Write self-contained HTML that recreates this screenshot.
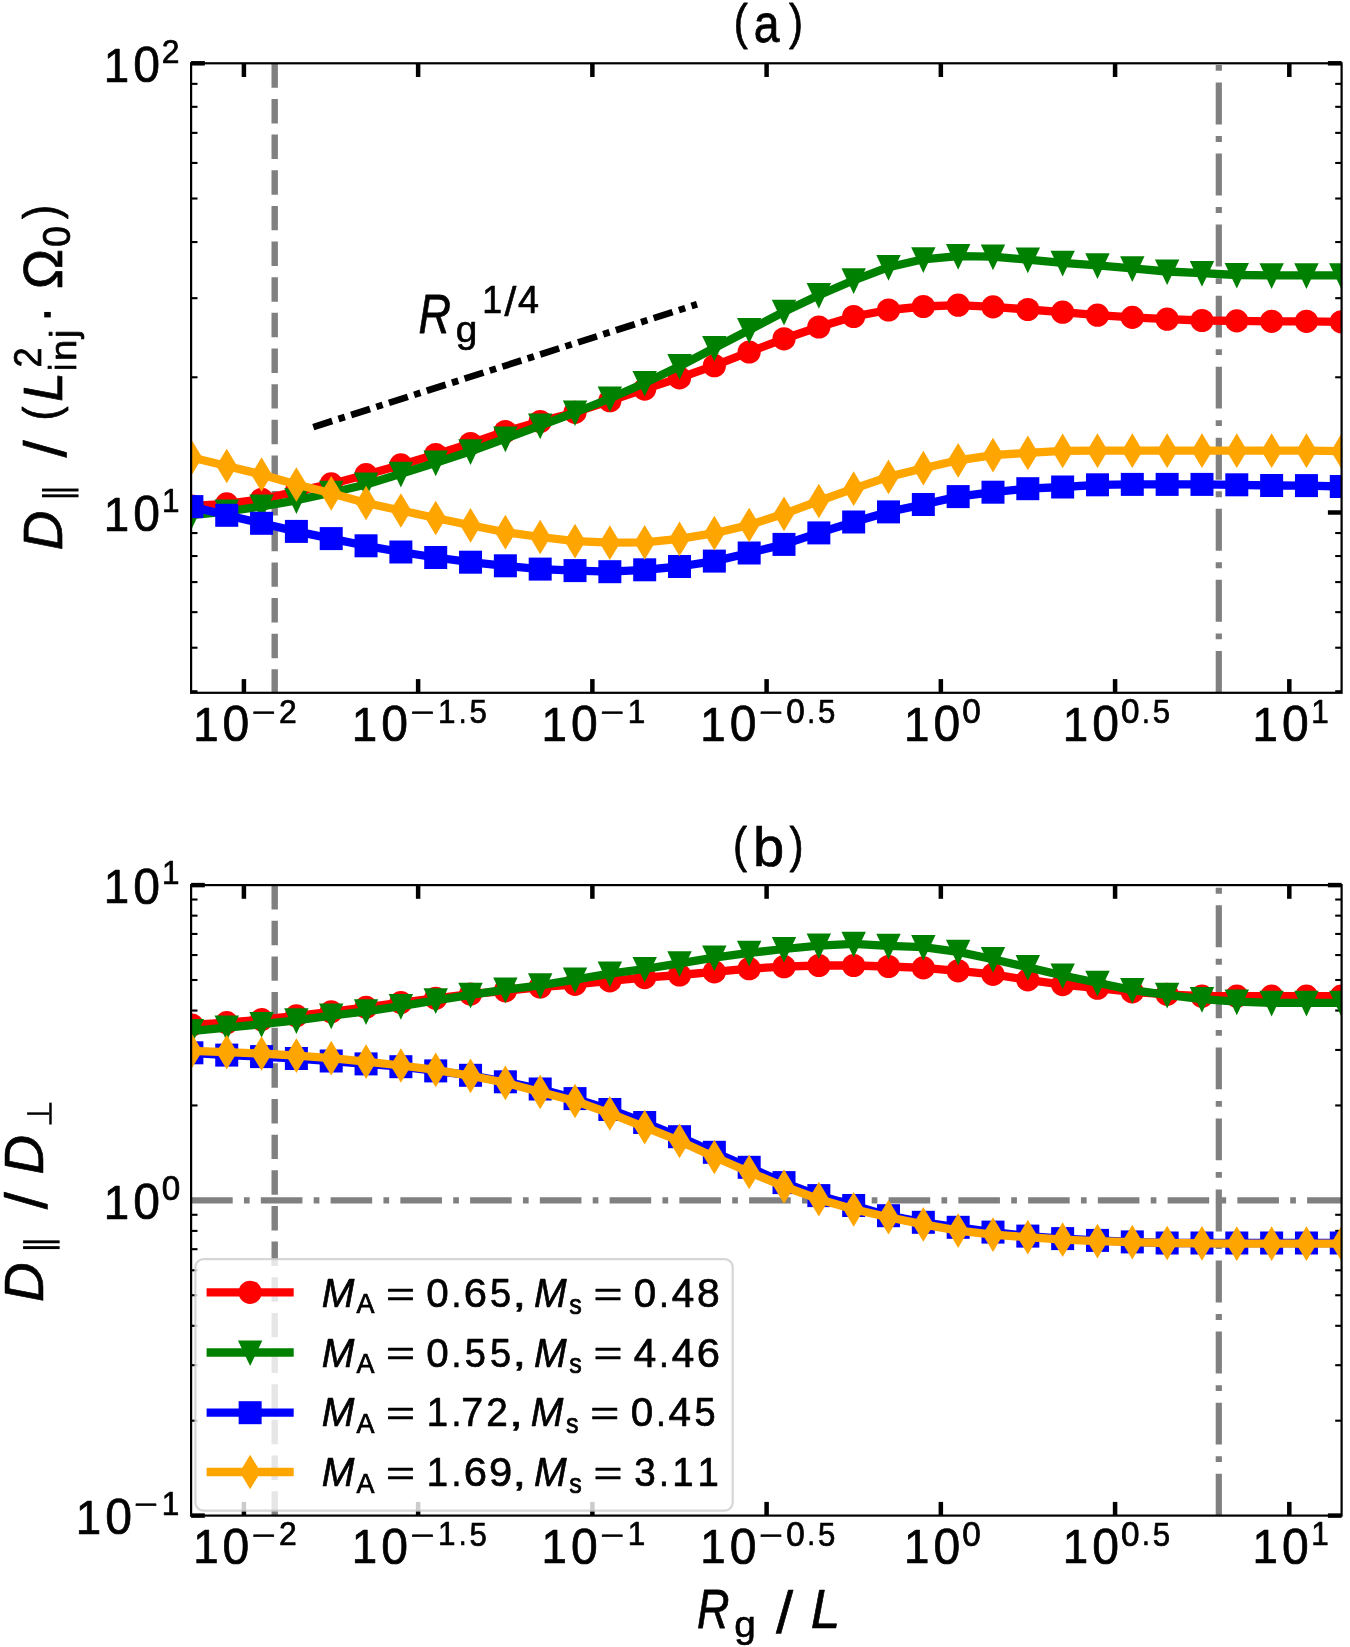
<!DOCTYPE html>
<html><head><meta charset="utf-8"><style>
html,body{margin:0;padding:0;background:#fff;}
body{width:1350px;height:1647px;overflow:hidden;}
svg{display:block;}
text{font-family:"Liberation Sans",sans-serif;font-kerning:none;}
</style></head><body>
<svg width="1350" height="1647" viewBox="0 0 1350 1647">
<rect width="1350" height="1647" fill="#fff"/>
<defs><clipPath id="ca"><rect x="191.1" y="63.3" width="1150.5" height="629.5"/></clipPath>
<clipPath id="cb"><rect x="191.1" y="885.1" width="1150.5" height="630.5"/></clipPath></defs>
<line x1="243.9" y1="692.8" x2="243.9" y2="679.1" stroke="#000" stroke-width="4.5"/>
<line x1="243.9" y1="63.3" x2="243.9" y2="77" stroke="#000" stroke-width="4.5"/>
<line x1="418.13" y1="692.8" x2="418.13" y2="679.1" stroke="#000" stroke-width="4.5"/>
<line x1="418.13" y1="63.3" x2="418.13" y2="77" stroke="#000" stroke-width="4.5"/>
<line x1="592.37" y1="692.8" x2="592.37" y2="679.1" stroke="#000" stroke-width="4.5"/>
<line x1="592.37" y1="63.3" x2="592.37" y2="77" stroke="#000" stroke-width="4.5"/>
<line x1="766.61" y1="692.8" x2="766.61" y2="679.1" stroke="#000" stroke-width="4.5"/>
<line x1="766.61" y1="63.3" x2="766.61" y2="77" stroke="#000" stroke-width="4.5"/>
<line x1="940.84" y1="692.8" x2="940.84" y2="679.1" stroke="#000" stroke-width="4.5"/>
<line x1="940.84" y1="63.3" x2="940.84" y2="77" stroke="#000" stroke-width="4.5"/>
<line x1="1115.08" y1="692.8" x2="1115.08" y2="679.1" stroke="#000" stroke-width="4.5"/>
<line x1="1115.08" y1="63.3" x2="1115.08" y2="77" stroke="#000" stroke-width="4.5"/>
<line x1="1289.31" y1="692.8" x2="1289.31" y2="679.1" stroke="#000" stroke-width="4.5"/>
<line x1="1289.31" y1="63.3" x2="1289.31" y2="77" stroke="#000" stroke-width="4.5"/>
<line x1="191.1" y1="512.5" x2="204.8" y2="512.5" stroke="#000" stroke-width="4.5"/>
<line x1="1341.6" y1="512.5" x2="1327.9" y2="512.5" stroke="#000" stroke-width="4.5"/>
<line x1="191.1" y1="63.3" x2="204.8" y2="63.3" stroke="#000" stroke-width="4.5"/>
<line x1="1341.6" y1="63.3" x2="1327.9" y2="63.3" stroke="#000" stroke-width="4.5"/>
<line x1="191.1" y1="691.25" x2="197.5" y2="691.25" stroke="#000" stroke-width="2.1"/>
<line x1="1341.6" y1="691.25" x2="1335.2" y2="691.25" stroke="#000" stroke-width="2.1"/>
<line x1="191.1" y1="647.72" x2="197.5" y2="647.72" stroke="#000" stroke-width="2.1"/>
<line x1="1341.6" y1="647.72" x2="1335.2" y2="647.72" stroke="#000" stroke-width="2.1"/>
<line x1="191.1" y1="612.15" x2="197.5" y2="612.15" stroke="#000" stroke-width="2.1"/>
<line x1="1341.6" y1="612.15" x2="1335.2" y2="612.15" stroke="#000" stroke-width="2.1"/>
<line x1="191.1" y1="582.08" x2="197.5" y2="582.08" stroke="#000" stroke-width="2.1"/>
<line x1="1341.6" y1="582.08" x2="1335.2" y2="582.08" stroke="#000" stroke-width="2.1"/>
<line x1="191.1" y1="556.03" x2="197.5" y2="556.03" stroke="#000" stroke-width="2.1"/>
<line x1="1341.6" y1="556.03" x2="1335.2" y2="556.03" stroke="#000" stroke-width="2.1"/>
<line x1="191.1" y1="533.05" x2="197.5" y2="533.05" stroke="#000" stroke-width="2.1"/>
<line x1="1341.6" y1="533.05" x2="1335.2" y2="533.05" stroke="#000" stroke-width="2.1"/>
<line x1="191.1" y1="377.28" x2="197.5" y2="377.28" stroke="#000" stroke-width="2.1"/>
<line x1="1341.6" y1="377.28" x2="1335.2" y2="377.28" stroke="#000" stroke-width="2.1"/>
<line x1="191.1" y1="298.18" x2="197.5" y2="298.18" stroke="#000" stroke-width="2.1"/>
<line x1="1341.6" y1="298.18" x2="1335.2" y2="298.18" stroke="#000" stroke-width="2.1"/>
<line x1="191.1" y1="242.05" x2="197.5" y2="242.05" stroke="#000" stroke-width="2.1"/>
<line x1="1341.6" y1="242.05" x2="1335.2" y2="242.05" stroke="#000" stroke-width="2.1"/>
<line x1="191.1" y1="198.52" x2="197.5" y2="198.52" stroke="#000" stroke-width="2.1"/>
<line x1="1341.6" y1="198.52" x2="1335.2" y2="198.52" stroke="#000" stroke-width="2.1"/>
<line x1="191.1" y1="162.95" x2="197.5" y2="162.95" stroke="#000" stroke-width="2.1"/>
<line x1="1341.6" y1="162.95" x2="1335.2" y2="162.95" stroke="#000" stroke-width="2.1"/>
<line x1="191.1" y1="132.88" x2="197.5" y2="132.88" stroke="#000" stroke-width="2.1"/>
<line x1="1341.6" y1="132.88" x2="1335.2" y2="132.88" stroke="#000" stroke-width="2.1"/>
<line x1="191.1" y1="106.83" x2="197.5" y2="106.83" stroke="#000" stroke-width="2.1"/>
<line x1="1341.6" y1="106.83" x2="1335.2" y2="106.83" stroke="#000" stroke-width="2.1"/>
<line x1="191.1" y1="83.85" x2="197.5" y2="83.85" stroke="#000" stroke-width="2.1"/>
<line x1="1341.6" y1="83.85" x2="1335.2" y2="83.85" stroke="#000" stroke-width="2.1"/>
<g clip-path="url(#ca)" stroke="#808080" fill="none">
<line x1="274.7" y1="63.3" x2="274.7" y2="692.8" stroke-width="6.4" stroke-dasharray="24.45 11.2"/>
<line x1="1218.8" y1="692.8" x2="1218.8" y2="63.3" stroke-width="6.2" stroke-dasharray="41.9 11.65 5.85 11.65"/>
</g>
<line x1="313.3" y1="427.1" x2="697" y2="304.3" stroke="#000" stroke-width="6.7" stroke-dasharray="19.85 6.62 6.62 6.62"/>
<g clip-path="url(#ca)">
<path d="M191.9 506 L226.73 503.9 L261.56 499.3 L296.39 491.5 L331.22 483.9 L366.05 474.7 L400.88 464.9 L435.71 454.5 L470.54 443.5 L505.37 431.5 L540.2 421.5 L575.03 412.4 L609.86 400.7 L644.69 389.1 L679.52 377.9 L714.35 365.7 L749.18 352 L784.01 338.8 L818.84 327 L853.67 316.5 L888.5 310 L923.33 306.5 L958.16 305.2 L992.99 306.9 L1027.82 309.5 L1062.65 312.2 L1097.48 315.2 L1132.31 317.4 L1167.14 319.2 L1201.97 320.5 L1236.8 320.9 L1271.63 321.3 L1306.46 321.3 L1341.29 321.8" fill="none" stroke="#ff0000" stroke-width="8.3" stroke-linejoin="round" stroke-linecap="square"/>
<circle cx="191.9" cy="506" r="11.6" fill="#ff0000"/>
<circle cx="226.73" cy="503.9" r="11.6" fill="#ff0000"/>
<circle cx="261.56" cy="499.3" r="11.6" fill="#ff0000"/>
<circle cx="296.39" cy="491.5" r="11.6" fill="#ff0000"/>
<circle cx="331.22" cy="483.9" r="11.6" fill="#ff0000"/>
<circle cx="366.05" cy="474.7" r="11.6" fill="#ff0000"/>
<circle cx="400.88" cy="464.9" r="11.6" fill="#ff0000"/>
<circle cx="435.71" cy="454.5" r="11.6" fill="#ff0000"/>
<circle cx="470.54" cy="443.5" r="11.6" fill="#ff0000"/>
<circle cx="505.37" cy="431.5" r="11.6" fill="#ff0000"/>
<circle cx="540.2" cy="421.5" r="11.6" fill="#ff0000"/>
<circle cx="575.03" cy="412.4" r="11.6" fill="#ff0000"/>
<circle cx="609.86" cy="400.7" r="11.6" fill="#ff0000"/>
<circle cx="644.69" cy="389.1" r="11.6" fill="#ff0000"/>
<circle cx="679.52" cy="377.9" r="11.6" fill="#ff0000"/>
<circle cx="714.35" cy="365.7" r="11.6" fill="#ff0000"/>
<circle cx="749.18" cy="352" r="11.6" fill="#ff0000"/>
<circle cx="784.01" cy="338.8" r="11.6" fill="#ff0000"/>
<circle cx="818.84" cy="327" r="11.6" fill="#ff0000"/>
<circle cx="853.67" cy="316.5" r="11.6" fill="#ff0000"/>
<circle cx="888.5" cy="310" r="11.6" fill="#ff0000"/>
<circle cx="923.33" cy="306.5" r="11.6" fill="#ff0000"/>
<circle cx="958.16" cy="305.2" r="11.6" fill="#ff0000"/>
<circle cx="992.99" cy="306.9" r="11.6" fill="#ff0000"/>
<circle cx="1027.82" cy="309.5" r="11.6" fill="#ff0000"/>
<circle cx="1062.65" cy="312.2" r="11.6" fill="#ff0000"/>
<circle cx="1097.48" cy="315.2" r="11.6" fill="#ff0000"/>
<circle cx="1132.31" cy="317.4" r="11.6" fill="#ff0000"/>
<circle cx="1167.14" cy="319.2" r="11.6" fill="#ff0000"/>
<circle cx="1201.97" cy="320.5" r="11.6" fill="#ff0000"/>
<circle cx="1236.8" cy="320.9" r="11.6" fill="#ff0000"/>
<circle cx="1271.63" cy="321.3" r="11.6" fill="#ff0000"/>
<circle cx="1306.46" cy="321.3" r="11.6" fill="#ff0000"/>
<circle cx="1341.29" cy="321.8" r="11.6" fill="#ff0000"/>
</g>
<g clip-path="url(#ca)">
<path d="M191.9 515 L226.73 511.5 L261.56 506.5 L296.39 500.3 L331.22 492.8 L366.05 484.5 L400.88 473.8 L435.71 462.7 L470.54 451.3 L505.37 438.6 L540.2 425.6 L575.03 412.5 L609.86 398.5 L644.69 383 L679.52 366.2 L714.35 348 L749.18 330 L784.01 311.8 L818.84 295.2 L853.67 280.3 L888.5 267.2 L923.33 259.3 L958.16 256.2 L992.99 256.7 L1027.82 259.7 L1062.65 262.8 L1097.48 265.4 L1132.31 268.4 L1167.14 271.5 L1201.97 273.2 L1236.8 275 L1271.63 275.4 L1306.46 275.4 L1341.29 275.4" fill="none" stroke="#008000" stroke-width="8.3" stroke-linejoin="round" stroke-linecap="square"/>
<polygon points="179.7,502.9 204.1,502.9 191.9,528.6" fill="#008000"/>
<polygon points="214.53,499.4 238.93,499.4 226.73,525.1" fill="#008000"/>
<polygon points="249.36,494.4 273.76,494.4 261.56,520.1" fill="#008000"/>
<polygon points="284.19,488.2 308.59,488.2 296.39,513.9" fill="#008000"/>
<polygon points="319.02,480.7 343.42,480.7 331.22,506.4" fill="#008000"/>
<polygon points="353.85,472.4 378.25,472.4 366.05,498.1" fill="#008000"/>
<polygon points="388.68,461.7 413.08,461.7 400.88,487.4" fill="#008000"/>
<polygon points="423.51,450.6 447.91,450.6 435.71,476.3" fill="#008000"/>
<polygon points="458.34,439.2 482.74,439.2 470.54,464.9" fill="#008000"/>
<polygon points="493.17,426.5 517.57,426.5 505.37,452.2" fill="#008000"/>
<polygon points="528,413.5 552.4,413.5 540.2,439.2" fill="#008000"/>
<polygon points="562.83,400.4 587.23,400.4 575.03,426.1" fill="#008000"/>
<polygon points="597.66,386.4 622.06,386.4 609.86,412.1" fill="#008000"/>
<polygon points="632.49,370.9 656.89,370.9 644.69,396.6" fill="#008000"/>
<polygon points="667.32,354.1 691.72,354.1 679.52,379.8" fill="#008000"/>
<polygon points="702.15,335.9 726.55,335.9 714.35,361.6" fill="#008000"/>
<polygon points="736.98,317.9 761.38,317.9 749.18,343.6" fill="#008000"/>
<polygon points="771.81,299.7 796.21,299.7 784.01,325.4" fill="#008000"/>
<polygon points="806.64,283.1 831.04,283.1 818.84,308.8" fill="#008000"/>
<polygon points="841.47,268.2 865.87,268.2 853.67,293.9" fill="#008000"/>
<polygon points="876.3,255.1 900.7,255.1 888.5,280.8" fill="#008000"/>
<polygon points="911.13,247.2 935.53,247.2 923.33,272.9" fill="#008000"/>
<polygon points="945.96,244.1 970.36,244.1 958.16,269.8" fill="#008000"/>
<polygon points="980.79,244.6 1005.19,244.6 992.99,270.3" fill="#008000"/>
<polygon points="1015.62,247.6 1040.02,247.6 1027.82,273.3" fill="#008000"/>
<polygon points="1050.45,250.7 1074.85,250.7 1062.65,276.4" fill="#008000"/>
<polygon points="1085.28,253.3 1109.68,253.3 1097.48,279" fill="#008000"/>
<polygon points="1120.11,256.3 1144.51,256.3 1132.31,282" fill="#008000"/>
<polygon points="1154.94,259.4 1179.34,259.4 1167.14,285.1" fill="#008000"/>
<polygon points="1189.77,261.1 1214.17,261.1 1201.97,286.8" fill="#008000"/>
<polygon points="1224.6,262.9 1249,262.9 1236.8,288.6" fill="#008000"/>
<polygon points="1259.43,263.3 1283.83,263.3 1271.63,289" fill="#008000"/>
<polygon points="1294.26,263.3 1318.66,263.3 1306.46,289" fill="#008000"/>
<polygon points="1329.09,263.3 1353.49,263.3 1341.29,289" fill="#008000"/>
</g>
<g clip-path="url(#ca)">
<path d="M191.9 506.6 L226.73 515.3 L261.56 523.3 L296.39 531.4 L331.22 538.6 L366.05 545.8 L400.88 552 L435.71 557.5 L470.54 562.2 L505.37 565.8 L540.2 569.1 L575.03 570.6 L609.86 571.7 L644.69 569.8 L679.52 566.5 L714.35 561.1 L749.18 553 L784.01 544.4 L818.84 532.9 L853.67 522 L888.5 511.9 L923.33 504.5 L958.16 496.6 L992.99 492.2 L1027.82 488.7 L1062.65 487 L1097.48 484.8 L1132.31 484.4 L1167.14 484.4 L1201.97 484.4 L1236.8 484.8 L1271.63 485.5 L1306.46 485.6 L1341.29 486.5" fill="none" stroke="#0000ff" stroke-width="8.3" stroke-linejoin="round" stroke-linecap="square"/>
<rect x="180.4" y="495.1" width="23" height="23" fill="#0000ff"/>
<rect x="215.23" y="503.8" width="23" height="23" fill="#0000ff"/>
<rect x="250.06" y="511.8" width="23" height="23" fill="#0000ff"/>
<rect x="284.89" y="519.9" width="23" height="23" fill="#0000ff"/>
<rect x="319.72" y="527.1" width="23" height="23" fill="#0000ff"/>
<rect x="354.55" y="534.3" width="23" height="23" fill="#0000ff"/>
<rect x="389.38" y="540.5" width="23" height="23" fill="#0000ff"/>
<rect x="424.21" y="546" width="23" height="23" fill="#0000ff"/>
<rect x="459.04" y="550.7" width="23" height="23" fill="#0000ff"/>
<rect x="493.87" y="554.3" width="23" height="23" fill="#0000ff"/>
<rect x="528.7" y="557.6" width="23" height="23" fill="#0000ff"/>
<rect x="563.53" y="559.1" width="23" height="23" fill="#0000ff"/>
<rect x="598.36" y="560.2" width="23" height="23" fill="#0000ff"/>
<rect x="633.19" y="558.3" width="23" height="23" fill="#0000ff"/>
<rect x="668.02" y="555" width="23" height="23" fill="#0000ff"/>
<rect x="702.85" y="549.6" width="23" height="23" fill="#0000ff"/>
<rect x="737.68" y="541.5" width="23" height="23" fill="#0000ff"/>
<rect x="772.51" y="532.9" width="23" height="23" fill="#0000ff"/>
<rect x="807.34" y="521.4" width="23" height="23" fill="#0000ff"/>
<rect x="842.17" y="510.5" width="23" height="23" fill="#0000ff"/>
<rect x="877" y="500.4" width="23" height="23" fill="#0000ff"/>
<rect x="911.83" y="493" width="23" height="23" fill="#0000ff"/>
<rect x="946.66" y="485.1" width="23" height="23" fill="#0000ff"/>
<rect x="981.49" y="480.7" width="23" height="23" fill="#0000ff"/>
<rect x="1016.32" y="477.2" width="23" height="23" fill="#0000ff"/>
<rect x="1051.15" y="475.5" width="23" height="23" fill="#0000ff"/>
<rect x="1085.98" y="473.3" width="23" height="23" fill="#0000ff"/>
<rect x="1120.81" y="472.9" width="23" height="23" fill="#0000ff"/>
<rect x="1155.64" y="472.9" width="23" height="23" fill="#0000ff"/>
<rect x="1190.47" y="472.9" width="23" height="23" fill="#0000ff"/>
<rect x="1225.3" y="473.3" width="23" height="23" fill="#0000ff"/>
<rect x="1260.13" y="474" width="23" height="23" fill="#0000ff"/>
<rect x="1294.96" y="474.1" width="23" height="23" fill="#0000ff"/>
<rect x="1329.79" y="475" width="23" height="23" fill="#0000ff"/>
</g>
<g clip-path="url(#ca)">
<path d="M191.9 457.5 L226.73 466 L261.56 474.5 L296.39 484.5 L331.22 493.3 L366.05 503 L400.88 510.5 L435.71 518 L470.54 525.3 L505.37 532.2 L540.2 537 L575.03 541.2 L609.86 542.7 L644.69 542.3 L679.52 538.8 L714.35 533.2 L749.18 525 L784.01 513.8 L818.84 501 L853.67 488.7 L888.5 476.9 L923.33 468.2 L958.16 460.3 L992.99 455.1 L1027.82 452.9 L1062.65 450.9 L1097.48 450.7 L1132.31 450.7 L1167.14 450.7 L1201.97 450.7 L1236.8 450.7 L1271.63 450.7 L1306.46 450.7 L1341.29 451.2" fill="none" stroke="#ffa500" stroke-width="8.3" stroke-linejoin="round" stroke-linecap="square"/>
<polygon points="191.9,440.15 202.3,457.5 191.9,474.85 181.5,457.5" fill="#ffa500"/>
<polygon points="226.73,448.65 237.13,466 226.73,483.35 216.33,466" fill="#ffa500"/>
<polygon points="261.56,457.15 271.96,474.5 261.56,491.85 251.16,474.5" fill="#ffa500"/>
<polygon points="296.39,467.15 306.79,484.5 296.39,501.85 285.99,484.5" fill="#ffa500"/>
<polygon points="331.22,475.95 341.62,493.3 331.22,510.65 320.82,493.3" fill="#ffa500"/>
<polygon points="366.05,485.65 376.45,503 366.05,520.35 355.65,503" fill="#ffa500"/>
<polygon points="400.88,493.15 411.28,510.5 400.88,527.85 390.48,510.5" fill="#ffa500"/>
<polygon points="435.71,500.65 446.11,518 435.71,535.35 425.31,518" fill="#ffa500"/>
<polygon points="470.54,507.95 480.94,525.3 470.54,542.65 460.14,525.3" fill="#ffa500"/>
<polygon points="505.37,514.85 515.77,532.2 505.37,549.55 494.97,532.2" fill="#ffa500"/>
<polygon points="540.2,519.65 550.6,537 540.2,554.35 529.8,537" fill="#ffa500"/>
<polygon points="575.03,523.85 585.43,541.2 575.03,558.55 564.63,541.2" fill="#ffa500"/>
<polygon points="609.86,525.35 620.26,542.7 609.86,560.05 599.46,542.7" fill="#ffa500"/>
<polygon points="644.69,524.95 655.09,542.3 644.69,559.65 634.29,542.3" fill="#ffa500"/>
<polygon points="679.52,521.45 689.92,538.8 679.52,556.15 669.12,538.8" fill="#ffa500"/>
<polygon points="714.35,515.85 724.75,533.2 714.35,550.55 703.95,533.2" fill="#ffa500"/>
<polygon points="749.18,507.65 759.58,525 749.18,542.35 738.78,525" fill="#ffa500"/>
<polygon points="784.01,496.45 794.41,513.8 784.01,531.15 773.61,513.8" fill="#ffa500"/>
<polygon points="818.84,483.65 829.24,501 818.84,518.35 808.44,501" fill="#ffa500"/>
<polygon points="853.67,471.35 864.07,488.7 853.67,506.05 843.27,488.7" fill="#ffa500"/>
<polygon points="888.5,459.55 898.9,476.9 888.5,494.25 878.1,476.9" fill="#ffa500"/>
<polygon points="923.33,450.85 933.73,468.2 923.33,485.55 912.93,468.2" fill="#ffa500"/>
<polygon points="958.16,442.95 968.56,460.3 958.16,477.65 947.76,460.3" fill="#ffa500"/>
<polygon points="992.99,437.75 1003.39,455.1 992.99,472.45 982.59,455.1" fill="#ffa500"/>
<polygon points="1027.82,435.55 1038.22,452.9 1027.82,470.25 1017.42,452.9" fill="#ffa500"/>
<polygon points="1062.65,433.55 1073.05,450.9 1062.65,468.25 1052.25,450.9" fill="#ffa500"/>
<polygon points="1097.48,433.35 1107.88,450.7 1097.48,468.05 1087.08,450.7" fill="#ffa500"/>
<polygon points="1132.31,433.35 1142.71,450.7 1132.31,468.05 1121.91,450.7" fill="#ffa500"/>
<polygon points="1167.14,433.35 1177.54,450.7 1167.14,468.05 1156.74,450.7" fill="#ffa500"/>
<polygon points="1201.97,433.35 1212.37,450.7 1201.97,468.05 1191.57,450.7" fill="#ffa500"/>
<polygon points="1236.8,433.35 1247.2,450.7 1236.8,468.05 1226.4,450.7" fill="#ffa500"/>
<polygon points="1271.63,433.35 1282.03,450.7 1271.63,468.05 1261.23,450.7" fill="#ffa500"/>
<polygon points="1306.46,433.35 1316.86,450.7 1306.46,468.05 1296.06,450.7" fill="#ffa500"/>
<polygon points="1341.29,433.85 1351.69,451.2 1341.29,468.55 1330.89,451.2" fill="#ffa500"/>
</g>
<rect x="191.1" y="63.3" width="1150.5" height="629.5" fill="none" stroke="#000" stroke-width="2.2"/>
<line x1="243.9" y1="1515.6" x2="243.9" y2="1501.9" stroke="#000" stroke-width="4.5"/>
<line x1="243.9" y1="885.1" x2="243.9" y2="898.8" stroke="#000" stroke-width="4.5"/>
<line x1="418.13" y1="1515.6" x2="418.13" y2="1501.9" stroke="#000" stroke-width="4.5"/>
<line x1="418.13" y1="885.1" x2="418.13" y2="898.8" stroke="#000" stroke-width="4.5"/>
<line x1="592.37" y1="1515.6" x2="592.37" y2="1501.9" stroke="#000" stroke-width="4.5"/>
<line x1="592.37" y1="885.1" x2="592.37" y2="898.8" stroke="#000" stroke-width="4.5"/>
<line x1="766.61" y1="1515.6" x2="766.61" y2="1501.9" stroke="#000" stroke-width="4.5"/>
<line x1="766.61" y1="885.1" x2="766.61" y2="898.8" stroke="#000" stroke-width="4.5"/>
<line x1="940.84" y1="1515.6" x2="940.84" y2="1501.9" stroke="#000" stroke-width="4.5"/>
<line x1="940.84" y1="885.1" x2="940.84" y2="898.8" stroke="#000" stroke-width="4.5"/>
<line x1="1115.08" y1="1515.6" x2="1115.08" y2="1501.9" stroke="#000" stroke-width="4.5"/>
<line x1="1115.08" y1="885.1" x2="1115.08" y2="898.8" stroke="#000" stroke-width="4.5"/>
<line x1="1289.31" y1="1515.6" x2="1289.31" y2="1501.9" stroke="#000" stroke-width="4.5"/>
<line x1="1289.31" y1="885.1" x2="1289.31" y2="898.8" stroke="#000" stroke-width="4.5"/>
<line x1="191.1" y1="1515.6" x2="204.8" y2="1515.6" stroke="#000" stroke-width="4.5"/>
<line x1="1341.6" y1="1515.6" x2="1327.9" y2="1515.6" stroke="#000" stroke-width="4.5"/>
<line x1="191.1" y1="1200.35" x2="204.8" y2="1200.35" stroke="#000" stroke-width="4.5"/>
<line x1="1341.6" y1="1200.35" x2="1327.9" y2="1200.35" stroke="#000" stroke-width="4.5"/>
<line x1="191.1" y1="885.1" x2="204.8" y2="885.1" stroke="#000" stroke-width="4.5"/>
<line x1="1341.6" y1="885.1" x2="1327.9" y2="885.1" stroke="#000" stroke-width="4.5"/>
<line x1="191.1" y1="1420.7" x2="197.5" y2="1420.7" stroke="#000" stroke-width="2.1"/>
<line x1="1341.6" y1="1420.7" x2="1335.2" y2="1420.7" stroke="#000" stroke-width="2.1"/>
<line x1="191.1" y1="1365.19" x2="197.5" y2="1365.19" stroke="#000" stroke-width="2.1"/>
<line x1="1341.6" y1="1365.19" x2="1335.2" y2="1365.19" stroke="#000" stroke-width="2.1"/>
<line x1="191.1" y1="1325.8" x2="197.5" y2="1325.8" stroke="#000" stroke-width="2.1"/>
<line x1="1341.6" y1="1325.8" x2="1335.2" y2="1325.8" stroke="#000" stroke-width="2.1"/>
<line x1="191.1" y1="1295.25" x2="197.5" y2="1295.25" stroke="#000" stroke-width="2.1"/>
<line x1="1341.6" y1="1295.25" x2="1335.2" y2="1295.25" stroke="#000" stroke-width="2.1"/>
<line x1="191.1" y1="1270.29" x2="197.5" y2="1270.29" stroke="#000" stroke-width="2.1"/>
<line x1="1341.6" y1="1270.29" x2="1335.2" y2="1270.29" stroke="#000" stroke-width="2.1"/>
<line x1="191.1" y1="1249.18" x2="197.5" y2="1249.18" stroke="#000" stroke-width="2.1"/>
<line x1="1341.6" y1="1249.18" x2="1335.2" y2="1249.18" stroke="#000" stroke-width="2.1"/>
<line x1="191.1" y1="1230.9" x2="197.5" y2="1230.9" stroke="#000" stroke-width="2.1"/>
<line x1="1341.6" y1="1230.9" x2="1335.2" y2="1230.9" stroke="#000" stroke-width="2.1"/>
<line x1="191.1" y1="1214.78" x2="197.5" y2="1214.78" stroke="#000" stroke-width="2.1"/>
<line x1="1341.6" y1="1214.78" x2="1335.2" y2="1214.78" stroke="#000" stroke-width="2.1"/>
<line x1="191.1" y1="1105.45" x2="197.5" y2="1105.45" stroke="#000" stroke-width="2.1"/>
<line x1="1341.6" y1="1105.45" x2="1335.2" y2="1105.45" stroke="#000" stroke-width="2.1"/>
<line x1="191.1" y1="1049.94" x2="197.5" y2="1049.94" stroke="#000" stroke-width="2.1"/>
<line x1="1341.6" y1="1049.94" x2="1335.2" y2="1049.94" stroke="#000" stroke-width="2.1"/>
<line x1="191.1" y1="1010.55" x2="197.5" y2="1010.55" stroke="#000" stroke-width="2.1"/>
<line x1="1341.6" y1="1010.55" x2="1335.2" y2="1010.55" stroke="#000" stroke-width="2.1"/>
<line x1="191.1" y1="980" x2="197.5" y2="980" stroke="#000" stroke-width="2.1"/>
<line x1="1341.6" y1="980" x2="1335.2" y2="980" stroke="#000" stroke-width="2.1"/>
<line x1="191.1" y1="955.04" x2="197.5" y2="955.04" stroke="#000" stroke-width="2.1"/>
<line x1="1341.6" y1="955.04" x2="1335.2" y2="955.04" stroke="#000" stroke-width="2.1"/>
<line x1="191.1" y1="933.93" x2="197.5" y2="933.93" stroke="#000" stroke-width="2.1"/>
<line x1="1341.6" y1="933.93" x2="1335.2" y2="933.93" stroke="#000" stroke-width="2.1"/>
<line x1="191.1" y1="915.65" x2="197.5" y2="915.65" stroke="#000" stroke-width="2.1"/>
<line x1="1341.6" y1="915.65" x2="1335.2" y2="915.65" stroke="#000" stroke-width="2.1"/>
<line x1="191.1" y1="899.53" x2="197.5" y2="899.53" stroke="#000" stroke-width="2.1"/>
<line x1="1341.6" y1="899.53" x2="1335.2" y2="899.53" stroke="#000" stroke-width="2.1"/>
<g clip-path="url(#cb)" stroke="#808080" fill="none">
<line x1="274.7" y1="885.1" x2="274.7" y2="1515.6" stroke-width="6.4" stroke-dasharray="24.45 11.2"/>
<line x1="1218.8" y1="1515.6" x2="1218.8" y2="885.1" stroke-width="6.2" stroke-dasharray="41.9 11.65 5.85 11.65"/>
</g>
<line x1="191.1" y1="1200.3" x2="1341.6" y2="1200.3" stroke="#808080" stroke-width="6.2" stroke-dasharray="41.6 11.25 5.7 11.2"/>
<g clip-path="url(#cb)">
<path d="M191.9 1025 L226.73 1022.7 L261.56 1019.6 L296.39 1015.9 L331.22 1011.8 L366.05 1007.4 L400.88 1002.5 L435.71 998.3 L470.54 994.1 L505.37 990.8 L540.2 987 L575.03 984.3 L609.86 980.9 L644.69 977.6 L679.52 975 L714.35 971.9 L749.18 968.7 L784.01 966.7 L818.84 965.5 L853.67 965.5 L888.5 966.5 L923.33 967.9 L958.16 970.8 L992.99 974.4 L1027.82 979.9 L1062.65 984.6 L1097.48 988.2 L1132.31 991.9 L1167.14 994.4 L1201.97 996.2 L1236.8 996.2 L1271.63 996.2 L1306.46 996.2 L1341.29 996.2" fill="none" stroke="#ff0000" stroke-width="8.3" stroke-linejoin="round" stroke-linecap="square"/>
<circle cx="191.9" cy="1025" r="11.6" fill="#ff0000"/>
<circle cx="226.73" cy="1022.7" r="11.6" fill="#ff0000"/>
<circle cx="261.56" cy="1019.6" r="11.6" fill="#ff0000"/>
<circle cx="296.39" cy="1015.9" r="11.6" fill="#ff0000"/>
<circle cx="331.22" cy="1011.8" r="11.6" fill="#ff0000"/>
<circle cx="366.05" cy="1007.4" r="11.6" fill="#ff0000"/>
<circle cx="400.88" cy="1002.5" r="11.6" fill="#ff0000"/>
<circle cx="435.71" cy="998.3" r="11.6" fill="#ff0000"/>
<circle cx="470.54" cy="994.1" r="11.6" fill="#ff0000"/>
<circle cx="505.37" cy="990.8" r="11.6" fill="#ff0000"/>
<circle cx="540.2" cy="987" r="11.6" fill="#ff0000"/>
<circle cx="575.03" cy="984.3" r="11.6" fill="#ff0000"/>
<circle cx="609.86" cy="980.9" r="11.6" fill="#ff0000"/>
<circle cx="644.69" cy="977.6" r="11.6" fill="#ff0000"/>
<circle cx="679.52" cy="975" r="11.6" fill="#ff0000"/>
<circle cx="714.35" cy="971.9" r="11.6" fill="#ff0000"/>
<circle cx="749.18" cy="968.7" r="11.6" fill="#ff0000"/>
<circle cx="784.01" cy="966.7" r="11.6" fill="#ff0000"/>
<circle cx="818.84" cy="965.5" r="11.6" fill="#ff0000"/>
<circle cx="853.67" cy="965.5" r="11.6" fill="#ff0000"/>
<circle cx="888.5" cy="966.5" r="11.6" fill="#ff0000"/>
<circle cx="923.33" cy="967.9" r="11.6" fill="#ff0000"/>
<circle cx="958.16" cy="970.8" r="11.6" fill="#ff0000"/>
<circle cx="992.99" cy="974.4" r="11.6" fill="#ff0000"/>
<circle cx="1027.82" cy="979.9" r="11.6" fill="#ff0000"/>
<circle cx="1062.65" cy="984.6" r="11.6" fill="#ff0000"/>
<circle cx="1097.48" cy="988.2" r="11.6" fill="#ff0000"/>
<circle cx="1132.31" cy="991.9" r="11.6" fill="#ff0000"/>
<circle cx="1167.14" cy="994.4" r="11.6" fill="#ff0000"/>
<circle cx="1201.97" cy="996.2" r="11.6" fill="#ff0000"/>
<circle cx="1236.8" cy="996.2" r="11.6" fill="#ff0000"/>
<circle cx="1271.63" cy="996.2" r="11.6" fill="#ff0000"/>
<circle cx="1306.46" cy="996.2" r="11.6" fill="#ff0000"/>
<circle cx="1341.29" cy="996.2" r="11.6" fill="#ff0000"/>
</g>
<g clip-path="url(#cb)">
<path d="M191.9 1031 L226.73 1027.6 L261.56 1024.2 L296.39 1020.3 L331.22 1015.7 L366.05 1011.3 L400.88 1006.1 L435.71 1000.4 L470.54 994.9 L505.37 989.7 L540.2 985.3 L575.03 979.6 L609.86 973.7 L644.69 969 L679.52 963.3 L714.35 957.6 L749.18 952.9 L784.01 949 L818.84 945.7 L853.67 943.9 L888.5 945.8 L923.33 947.2 L958.16 951.9 L992.99 959.2 L1027.82 967.2 L1062.65 975.5 L1097.48 982.8 L1132.31 990.1 L1167.14 994.8 L1201.97 999.1 L1236.8 1001.7 L1271.63 1002.8 L1306.46 1002.8 L1341.29 1002.8" fill="none" stroke="#008000" stroke-width="8.3" stroke-linejoin="round" stroke-linecap="square"/>
<polygon points="179.7,1018.9 204.1,1018.9 191.9,1044.6" fill="#008000"/>
<polygon points="214.53,1015.5 238.93,1015.5 226.73,1041.2" fill="#008000"/>
<polygon points="249.36,1012.1 273.76,1012.1 261.56,1037.8" fill="#008000"/>
<polygon points="284.19,1008.2 308.59,1008.2 296.39,1033.9" fill="#008000"/>
<polygon points="319.02,1003.6 343.42,1003.6 331.22,1029.3" fill="#008000"/>
<polygon points="353.85,999.2 378.25,999.2 366.05,1024.9" fill="#008000"/>
<polygon points="388.68,994 413.08,994 400.88,1019.7" fill="#008000"/>
<polygon points="423.51,988.3 447.91,988.3 435.71,1014" fill="#008000"/>
<polygon points="458.34,982.8 482.74,982.8 470.54,1008.5" fill="#008000"/>
<polygon points="493.17,977.6 517.57,977.6 505.37,1003.3" fill="#008000"/>
<polygon points="528,973.2 552.4,973.2 540.2,998.9" fill="#008000"/>
<polygon points="562.83,967.5 587.23,967.5 575.03,993.2" fill="#008000"/>
<polygon points="597.66,961.6 622.06,961.6 609.86,987.3" fill="#008000"/>
<polygon points="632.49,956.9 656.89,956.9 644.69,982.6" fill="#008000"/>
<polygon points="667.32,951.2 691.72,951.2 679.52,976.9" fill="#008000"/>
<polygon points="702.15,945.5 726.55,945.5 714.35,971.2" fill="#008000"/>
<polygon points="736.98,940.8 761.38,940.8 749.18,966.5" fill="#008000"/>
<polygon points="771.81,936.9 796.21,936.9 784.01,962.6" fill="#008000"/>
<polygon points="806.64,933.6 831.04,933.6 818.84,959.3" fill="#008000"/>
<polygon points="841.47,931.8 865.87,931.8 853.67,957.5" fill="#008000"/>
<polygon points="876.3,933.7 900.7,933.7 888.5,959.4" fill="#008000"/>
<polygon points="911.13,935.1 935.53,935.1 923.33,960.8" fill="#008000"/>
<polygon points="945.96,939.8 970.36,939.8 958.16,965.5" fill="#008000"/>
<polygon points="980.79,947.1 1005.19,947.1 992.99,972.8" fill="#008000"/>
<polygon points="1015.62,955.1 1040.02,955.1 1027.82,980.8" fill="#008000"/>
<polygon points="1050.45,963.4 1074.85,963.4 1062.65,989.1" fill="#008000"/>
<polygon points="1085.28,970.7 1109.68,970.7 1097.48,996.4" fill="#008000"/>
<polygon points="1120.11,978 1144.51,978 1132.31,1003.7" fill="#008000"/>
<polygon points="1154.94,982.7 1179.34,982.7 1167.14,1008.4" fill="#008000"/>
<polygon points="1189.77,987 1214.17,987 1201.97,1012.7" fill="#008000"/>
<polygon points="1224.6,989.6 1249,989.6 1236.8,1015.3" fill="#008000"/>
<polygon points="1259.43,990.7 1283.83,990.7 1271.63,1016.4" fill="#008000"/>
<polygon points="1294.26,990.7 1318.66,990.7 1306.46,1016.4" fill="#008000"/>
<polygon points="1329.09,990.7 1353.49,990.7 1341.29,1016.4" fill="#008000"/>
</g>
<g clip-path="url(#cb)">
<path d="M191.9 1052.8 L226.73 1055.1 L261.56 1056.6 L296.39 1058.5 L331.22 1061 L366.05 1063.9 L400.88 1066.7 L435.71 1070.9 L470.54 1075.3 L505.37 1081.8 L540.2 1089 L575.03 1098.6 L609.86 1109.5 L644.69 1122.5 L679.52 1136.7 L714.35 1152.3 L749.18 1167.3 L784.01 1182.6 L818.84 1195.6 L853.67 1205.5 L888.5 1215.7 L923.33 1222.3 L958.16 1227.3 L992.99 1232.1 L1027.82 1236.1 L1062.65 1238.6 L1097.48 1240.4 L1132.31 1241.9 L1167.14 1243 L1201.97 1243 L1236.8 1243 L1271.63 1243 L1306.46 1243 L1341.29 1243" fill="none" stroke="#0000ff" stroke-width="8.3" stroke-linejoin="round" stroke-linecap="square"/>
<rect x="180.4" y="1041.3" width="23" height="23" fill="#0000ff"/>
<rect x="215.23" y="1043.6" width="23" height="23" fill="#0000ff"/>
<rect x="250.06" y="1045.1" width="23" height="23" fill="#0000ff"/>
<rect x="284.89" y="1047" width="23" height="23" fill="#0000ff"/>
<rect x="319.72" y="1049.5" width="23" height="23" fill="#0000ff"/>
<rect x="354.55" y="1052.4" width="23" height="23" fill="#0000ff"/>
<rect x="389.38" y="1055.2" width="23" height="23" fill="#0000ff"/>
<rect x="424.21" y="1059.4" width="23" height="23" fill="#0000ff"/>
<rect x="459.04" y="1063.8" width="23" height="23" fill="#0000ff"/>
<rect x="493.87" y="1070.3" width="23" height="23" fill="#0000ff"/>
<rect x="528.7" y="1077.5" width="23" height="23" fill="#0000ff"/>
<rect x="563.53" y="1087.1" width="23" height="23" fill="#0000ff"/>
<rect x="598.36" y="1098" width="23" height="23" fill="#0000ff"/>
<rect x="633.19" y="1111" width="23" height="23" fill="#0000ff"/>
<rect x="668.02" y="1125.2" width="23" height="23" fill="#0000ff"/>
<rect x="702.85" y="1140.8" width="23" height="23" fill="#0000ff"/>
<rect x="737.68" y="1155.8" width="23" height="23" fill="#0000ff"/>
<rect x="772.51" y="1171.1" width="23" height="23" fill="#0000ff"/>
<rect x="807.34" y="1184.1" width="23" height="23" fill="#0000ff"/>
<rect x="842.17" y="1194" width="23" height="23" fill="#0000ff"/>
<rect x="877" y="1204.2" width="23" height="23" fill="#0000ff"/>
<rect x="911.83" y="1210.8" width="23" height="23" fill="#0000ff"/>
<rect x="946.66" y="1215.8" width="23" height="23" fill="#0000ff"/>
<rect x="981.49" y="1220.6" width="23" height="23" fill="#0000ff"/>
<rect x="1016.32" y="1224.6" width="23" height="23" fill="#0000ff"/>
<rect x="1051.15" y="1227.1" width="23" height="23" fill="#0000ff"/>
<rect x="1085.98" y="1228.9" width="23" height="23" fill="#0000ff"/>
<rect x="1120.81" y="1230.4" width="23" height="23" fill="#0000ff"/>
<rect x="1155.64" y="1231.5" width="23" height="23" fill="#0000ff"/>
<rect x="1190.47" y="1231.5" width="23" height="23" fill="#0000ff"/>
<rect x="1225.3" y="1231.5" width="23" height="23" fill="#0000ff"/>
<rect x="1260.13" y="1231.5" width="23" height="23" fill="#0000ff"/>
<rect x="1294.96" y="1231.5" width="23" height="23" fill="#0000ff"/>
<rect x="1329.79" y="1231.5" width="23" height="23" fill="#0000ff"/>
</g>
<g clip-path="url(#cb)">
<path d="M191.9 1051 L226.73 1052.2 L261.56 1053.5 L296.39 1055.6 L331.22 1058.2 L366.05 1061.6 L400.88 1065.5 L435.71 1069.9 L470.54 1075.8 L505.37 1082.8 L540.2 1091.9 L575.03 1101 L609.86 1113.4 L644.69 1127.2 L679.52 1140.9 L714.35 1157 L749.18 1172 L784.01 1186.5 L818.84 1199.2 L853.67 1209.3 L888.5 1217.2 L923.33 1224.4 L958.16 1230.6 L992.99 1234.6 L1027.82 1237.2 L1062.65 1239.7 L1097.48 1241.1 L1132.31 1242.2 L1167.14 1243 L1201.97 1243.3 L1236.8 1243.7 L1271.63 1243.7 L1306.46 1243.7 L1341.29 1243.7" fill="none" stroke="#ffa500" stroke-width="8.3" stroke-linejoin="round" stroke-linecap="square"/>
<polygon points="191.9,1033.65 202.3,1051 191.9,1068.35 181.5,1051" fill="#ffa500"/>
<polygon points="226.73,1034.85 237.13,1052.2 226.73,1069.55 216.33,1052.2" fill="#ffa500"/>
<polygon points="261.56,1036.15 271.96,1053.5 261.56,1070.85 251.16,1053.5" fill="#ffa500"/>
<polygon points="296.39,1038.25 306.79,1055.6 296.39,1072.95 285.99,1055.6" fill="#ffa500"/>
<polygon points="331.22,1040.85 341.62,1058.2 331.22,1075.55 320.82,1058.2" fill="#ffa500"/>
<polygon points="366.05,1044.25 376.45,1061.6 366.05,1078.95 355.65,1061.6" fill="#ffa500"/>
<polygon points="400.88,1048.15 411.28,1065.5 400.88,1082.85 390.48,1065.5" fill="#ffa500"/>
<polygon points="435.71,1052.55 446.11,1069.9 435.71,1087.25 425.31,1069.9" fill="#ffa500"/>
<polygon points="470.54,1058.45 480.94,1075.8 470.54,1093.15 460.14,1075.8" fill="#ffa500"/>
<polygon points="505.37,1065.45 515.77,1082.8 505.37,1100.15 494.97,1082.8" fill="#ffa500"/>
<polygon points="540.2,1074.55 550.6,1091.9 540.2,1109.25 529.8,1091.9" fill="#ffa500"/>
<polygon points="575.03,1083.65 585.43,1101 575.03,1118.35 564.63,1101" fill="#ffa500"/>
<polygon points="609.86,1096.05 620.26,1113.4 609.86,1130.75 599.46,1113.4" fill="#ffa500"/>
<polygon points="644.69,1109.85 655.09,1127.2 644.69,1144.55 634.29,1127.2" fill="#ffa500"/>
<polygon points="679.52,1123.55 689.92,1140.9 679.52,1158.25 669.12,1140.9" fill="#ffa500"/>
<polygon points="714.35,1139.65 724.75,1157 714.35,1174.35 703.95,1157" fill="#ffa500"/>
<polygon points="749.18,1154.65 759.58,1172 749.18,1189.35 738.78,1172" fill="#ffa500"/>
<polygon points="784.01,1169.15 794.41,1186.5 784.01,1203.85 773.61,1186.5" fill="#ffa500"/>
<polygon points="818.84,1181.85 829.24,1199.2 818.84,1216.55 808.44,1199.2" fill="#ffa500"/>
<polygon points="853.67,1191.95 864.07,1209.3 853.67,1226.65 843.27,1209.3" fill="#ffa500"/>
<polygon points="888.5,1199.85 898.9,1217.2 888.5,1234.55 878.1,1217.2" fill="#ffa500"/>
<polygon points="923.33,1207.05 933.73,1224.4 923.33,1241.75 912.93,1224.4" fill="#ffa500"/>
<polygon points="958.16,1213.25 968.56,1230.6 958.16,1247.95 947.76,1230.6" fill="#ffa500"/>
<polygon points="992.99,1217.25 1003.39,1234.6 992.99,1251.95 982.59,1234.6" fill="#ffa500"/>
<polygon points="1027.82,1219.85 1038.22,1237.2 1027.82,1254.55 1017.42,1237.2" fill="#ffa500"/>
<polygon points="1062.65,1222.35 1073.05,1239.7 1062.65,1257.05 1052.25,1239.7" fill="#ffa500"/>
<polygon points="1097.48,1223.75 1107.88,1241.1 1097.48,1258.45 1087.08,1241.1" fill="#ffa500"/>
<polygon points="1132.31,1224.85 1142.71,1242.2 1132.31,1259.55 1121.91,1242.2" fill="#ffa500"/>
<polygon points="1167.14,1225.65 1177.54,1243 1167.14,1260.35 1156.74,1243" fill="#ffa500"/>
<polygon points="1201.97,1225.95 1212.37,1243.3 1201.97,1260.65 1191.57,1243.3" fill="#ffa500"/>
<polygon points="1236.8,1226.35 1247.2,1243.7 1236.8,1261.05 1226.4,1243.7" fill="#ffa500"/>
<polygon points="1271.63,1226.35 1282.03,1243.7 1271.63,1261.05 1261.23,1243.7" fill="#ffa500"/>
<polygon points="1306.46,1226.35 1316.86,1243.7 1306.46,1261.05 1296.06,1243.7" fill="#ffa500"/>
<polygon points="1341.29,1226.35 1351.69,1243.7 1341.29,1261.05 1330.89,1243.7" fill="#ffa500"/>
</g>
<rect x="191.1" y="885.1" width="1150.5" height="630.5" fill="none" stroke="#000" stroke-width="2.2"/>
<rect x="195.4" y="1259.1" width="537.3" height="251.5" rx="8" ry="8" fill="#ffffff" fill-opacity="0.8" stroke="#cccccc" stroke-opacity="0.8" stroke-width="2.2"/>
<line x1="206.6" y1="1292.3" x2="293.7" y2="1292.3" stroke="#ff0000" stroke-width="8.3"/>
<circle cx="250.15" cy="1292.3" r="11.6" fill="#ff0000"/>
<line x1="206.6" y1="1352.5" x2="293.7" y2="1352.5" stroke="#008000" stroke-width="8.3"/>
<polygon points="237.95,1340.4 262.35,1340.4 250.15,1366.1" fill="#008000"/>
<line x1="206.6" y1="1412.7" x2="293.7" y2="1412.7" stroke="#0000ff" stroke-width="8.3"/>
<rect x="238.65" y="1401.2" width="23" height="23" fill="#0000ff"/>
<line x1="206.6" y1="1472" x2="293.7" y2="1472" stroke="#ffa500" stroke-width="8.3"/>
<polygon points="250.15,1454.65 260.55,1472 250.15,1489.35 239.75,1472" fill="#ffa500"/>
<g fill="#000" stroke="#000" stroke-linejoin="round" style="opacity:0.999">
<text transform="matrix(0.45696 0 0 0.48785 193.13 740.65)" font-size="100" stroke-width="1.48">1</text><text transform="matrix(0.48080 0 0 0.49220 222.57 740.83)" font-size="100" stroke-width="1.44">0</text><text transform="matrix(0.40949 0 0 0.28489 251.97 722.17)" font-size="100" stroke-width="2.02">−</text><text transform="matrix(0.31892 0 0 0.33968 278.88 722.66)" font-size="100" stroke-width="2.13">2</text>
<text transform="matrix(0.45696 0 0 0.48785 193.13 1563.45)" font-size="100" stroke-width="1.48">1</text><text transform="matrix(0.48080 0 0 0.49220 222.57 1563.63)" font-size="100" stroke-width="1.44">0</text><text transform="matrix(0.40949 0 0 0.28489 251.97 1544.97)" font-size="100" stroke-width="2.02">−</text><text transform="matrix(0.31892 0 0 0.33968 278.88 1545.46)" font-size="100" stroke-width="2.13">2</text>
<text transform="matrix(0.45696 0 0 0.48785 351.87 740.65)" font-size="100" stroke-width="1.48">1</text><text transform="matrix(0.48080 0 0 0.49220 381.31 740.83)" font-size="100" stroke-width="1.44">0</text><text transform="matrix(0.40949 0 0 0.28489 410.71 722.17)" font-size="100" stroke-width="2.02">−</text><text transform="matrix(0.31500 0 0 0.33844 438.02 722.66)" font-size="100" stroke-width="2.14">1</text><text transform="matrix(0.28248 0 0 0.31612 458.68 722.66)" font-size="100" stroke-width="2.34">.</text><text transform="matrix(0.31254 0 0 0.34038 469.48 722.79)" font-size="100" stroke-width="2.14">5</text>
<text transform="matrix(0.45696 0 0 0.48785 351.87 1563.45)" font-size="100" stroke-width="1.48">1</text><text transform="matrix(0.48080 0 0 0.49220 381.31 1563.63)" font-size="100" stroke-width="1.44">0</text><text transform="matrix(0.40949 0 0 0.28489 410.71 1544.97)" font-size="100" stroke-width="2.02">−</text><text transform="matrix(0.31500 0 0 0.33844 438.02 1545.46)" font-size="100" stroke-width="2.14">1</text><text transform="matrix(0.28248 0 0 0.31612 458.68 1545.46)" font-size="100" stroke-width="2.34">.</text><text transform="matrix(0.31254 0 0 0.34038 469.48 1545.59)" font-size="100" stroke-width="2.14">5</text>
<text transform="matrix(0.45696 0 0 0.48785 541.6 740.65)" font-size="100" stroke-width="1.48">1</text><text transform="matrix(0.48080 0 0 0.49220 571.04 740.83)" font-size="100" stroke-width="1.44">0</text><text transform="matrix(0.40949 0 0 0.28489 600.44 722.17)" font-size="100" stroke-width="2.02">−</text><text transform="matrix(0.31500 0 0 0.33844 627.76 722.66)" font-size="100" stroke-width="2.14">1</text>
<text transform="matrix(0.45696 0 0 0.48785 541.6 1563.45)" font-size="100" stroke-width="1.48">1</text><text transform="matrix(0.48080 0 0 0.49220 571.04 1563.63)" font-size="100" stroke-width="1.44">0</text><text transform="matrix(0.40949 0 0 0.28489 600.44 1544.97)" font-size="100" stroke-width="2.02">−</text><text transform="matrix(0.31500 0 0 0.33844 627.76 1545.46)" font-size="100" stroke-width="2.14">1</text>
<text transform="matrix(0.45696 0 0 0.48785 700.34 740.65)" font-size="100" stroke-width="1.48">1</text><text transform="matrix(0.48080 0 0 0.49220 729.78 740.83)" font-size="100" stroke-width="1.44">0</text><text transform="matrix(0.40949 0 0 0.28489 759.18 722.17)" font-size="100" stroke-width="2.02">−</text><text transform="matrix(0.33217 0 0 0.34158 786.15 722.79)" font-size="100" stroke-width="2.08">0</text><text transform="matrix(0.28248 0 0 0.31612 807.15 722.66)" font-size="100" stroke-width="2.34">.</text><text transform="matrix(0.31254 0 0 0.34038 817.95 722.79)" font-size="100" stroke-width="2.14">5</text>
<text transform="matrix(0.45696 0 0 0.48785 700.34 1563.45)" font-size="100" stroke-width="1.48">1</text><text transform="matrix(0.48080 0 0 0.49220 729.78 1563.63)" font-size="100" stroke-width="1.44">0</text><text transform="matrix(0.40949 0 0 0.28489 759.18 1544.97)" font-size="100" stroke-width="2.02">−</text><text transform="matrix(0.33217 0 0 0.34158 786.15 1545.59)" font-size="100" stroke-width="2.08">0</text><text transform="matrix(0.28248 0 0 0.31612 807.15 1545.46)" font-size="100" stroke-width="2.34">.</text><text transform="matrix(0.31254 0 0 0.34038 817.95 1545.59)" font-size="100" stroke-width="2.14">5</text>
<text transform="matrix(0.45696 0 0 0.48785 904.07 740.65)" font-size="100" stroke-width="1.48">1</text><text transform="matrix(0.48080 0 0 0.49220 933.51 740.83)" font-size="100" stroke-width="1.44">0</text><text transform="matrix(0.33217 0 0 0.34158 962.32 722.79)" font-size="100" stroke-width="2.08">0</text>
<text transform="matrix(0.45696 0 0 0.48785 904.07 1563.45)" font-size="100" stroke-width="1.48">1</text><text transform="matrix(0.48080 0 0 0.49220 933.51 1563.63)" font-size="100" stroke-width="1.44">0</text><text transform="matrix(0.33217 0 0 0.34158 962.32 1545.59)" font-size="100" stroke-width="2.08">0</text>
<text transform="matrix(0.45696 0 0 0.48785 1062.81 740.65)" font-size="100" stroke-width="1.48">1</text><text transform="matrix(0.48080 0 0 0.49220 1092.25 740.83)" font-size="100" stroke-width="1.44">0</text><text transform="matrix(0.33217 0 0 0.34158 1121.05 722.79)" font-size="100" stroke-width="2.08">0</text><text transform="matrix(0.28248 0 0 0.31612 1142.05 722.66)" font-size="100" stroke-width="2.34">.</text><text transform="matrix(0.31254 0 0 0.34038 1152.86 722.79)" font-size="100" stroke-width="2.14">5</text>
<text transform="matrix(0.45696 0 0 0.48785 1062.81 1563.45)" font-size="100" stroke-width="1.48">1</text><text transform="matrix(0.48080 0 0 0.49220 1092.25 1563.63)" font-size="100" stroke-width="1.44">0</text><text transform="matrix(0.33217 0 0 0.34158 1121.05 1545.59)" font-size="100" stroke-width="2.08">0</text><text transform="matrix(0.28248 0 0 0.31612 1142.05 1545.46)" font-size="100" stroke-width="2.34">.</text><text transform="matrix(0.31254 0 0 0.34038 1152.86 1545.59)" font-size="100" stroke-width="2.14">5</text>
<text transform="matrix(0.45696 0 0 0.48785 1252.54 740.65)" font-size="100" stroke-width="1.48">1</text><text transform="matrix(0.48080 0 0 0.49220 1281.98 740.83)" font-size="100" stroke-width="1.44">0</text><text transform="matrix(0.31500 0 0 0.33844 1311.13 722.66)" font-size="100" stroke-width="2.14">1</text>
<text transform="matrix(0.45696 0 0 0.48785 1252.54 1563.45)" font-size="100" stroke-width="1.48">1</text><text transform="matrix(0.48080 0 0 0.49220 1281.98 1563.63)" font-size="100" stroke-width="1.44">0</text><text transform="matrix(0.31500 0 0 0.33844 1311.13 1545.46)" font-size="100" stroke-width="2.14">1</text>
<text transform="matrix(0.45696 0 0 0.48785 103.83 530.75)" font-size="100" stroke-width="1.48">1</text><text transform="matrix(0.48080 0 0 0.49220 133.27 530.93)" font-size="100" stroke-width="1.44">0</text><text transform="matrix(0.31500 0 0 0.33844 162.12 511.76)" font-size="100" stroke-width="2.14">1</text>
<text transform="matrix(0.45696 0 0 0.48785 103.83 81.55)" font-size="100" stroke-width="1.48">1</text><text transform="matrix(0.48080 0 0 0.49220 133.27 81.73)" font-size="100" stroke-width="1.44">0</text><text transform="matrix(0.31892 0 0 0.33968 161.71 62.56)" font-size="100" stroke-width="2.13">2</text>
<text transform="matrix(0.45696 0 0 0.48785 75.83 1533.85)" font-size="100" stroke-width="1.48">1</text><text transform="matrix(0.48080 0 0 0.49220 105.27 1534.03)" font-size="100" stroke-width="1.44">0</text><text transform="matrix(0.40949 0 0 0.28489 134.37 1514.37)" font-size="100" stroke-width="2.02">−</text><text transform="matrix(0.31500 0 0 0.33844 161.69 1514.86)" font-size="100" stroke-width="2.14">1</text>
<text transform="matrix(0.45696 0 0 0.48785 103.83 1218.6)" font-size="100" stroke-width="1.48">1</text><text transform="matrix(0.48080 0 0 0.49220 133.27 1218.78)" font-size="100" stroke-width="1.44">0</text><text transform="matrix(0.33217 0 0 0.34158 161.78 1199.74)" font-size="100" stroke-width="2.08">0</text>
<text transform="matrix(0.45696 0 0 0.48785 103.83 903.35)" font-size="100" stroke-width="1.48">1</text><text transform="matrix(0.48080 0 0 0.49220 133.27 903.53)" font-size="100" stroke-width="1.44">0</text><text transform="matrix(0.31500 0 0 0.33844 162.12 884.36)" font-size="100" stroke-width="2.14">1</text>
<text transform="matrix(0.42161 0 0 0.49915 733.72 38.8)" font-size="100" stroke-width="1.52">(</text><text transform="matrix(0.46297 0 0 0.54273 753.68 42.37)" font-size="100" stroke-width="1.39">a</text><text transform="matrix(0.42161 0 0 0.49915 788.94 38.8)" font-size="100" stroke-width="1.52">)</text>
<text transform="matrix(0.42161 0 0 0.49915 733.09 862.1)" font-size="100" stroke-width="1.52">(</text><text transform="matrix(0.56105 0 0 0.54901 753.03 865.66)" font-size="100" stroke-width="1.26">b</text><text transform="matrix(0.42161 0 0 0.49915 789.47 862.1)" font-size="100" stroke-width="1.52">)</text>
<text transform="matrix(0.44929 0 0 0.55142 696.97 1628.35)" font-size="100" stroke-width="1.40" font-style="italic">R</text><text transform="matrix(0.38766 0 0 0.37352 734.17 1637.01)" font-size="100" stroke-width="1.84">g</text><text transform="matrix(0.61751 0 0 0.58355 775.96 1632.7)" font-size="100" stroke-width="1.17">/</text><text transform="matrix(0.53168 0 0 0.55142 810.81 1628.35)" font-size="100" stroke-width="1.29" font-style="italic">L</text>
<text transform="matrix(0.44929 0 0 0.55142 418.57 333.05)" font-size="100" stroke-width="1.40" font-style="italic">R</text><text transform="matrix(0.38766 0 0 0.37352 455.77 341.71)" font-size="100" stroke-width="1.84">g</text><text transform="matrix(0.35729 0 0 0.38294 482.21 312.76)" font-size="100" stroke-width="1.89">1</text><text transform="matrix(0.42470 0 0 0.40562 504.46 315.81)" font-size="100" stroke-width="1.69">/</text><text transform="matrix(0.37724 0 0 0.38294 517.91 312.76)" font-size="100" stroke-width="1.84">4</text>
<g transform="rotate(-90)"><text transform="matrix(0.54843 0 0 0.55142 -550.14 61.55)" font-size="100" stroke-width="1.27" font-style="italic">D</text><rect x="-497.26" y="41.99" width="2.9" height="36.54" stroke="none"/><rect x="-491.46" y="41.99" width="2.9" height="36.54" stroke="none"/><text transform="matrix(0.61751 0 0 0.58355 -457.4 65.9)" font-size="100" stroke-width="1.17">/</text><text transform="matrix(0.42161 0 0 0.49915 -420.39 58.2)" font-size="100" stroke-width="1.52">(</text><text transform="matrix(0.53168 0 0 0.55142 -401.87 61.55)" font-size="100" stroke-width="1.29" font-style="italic">L</text><text transform="matrix(0.36160 0 0 0.38432 -367.51 41.23)" font-size="100" stroke-width="1.88">2</text><text transform="matrix(0.29960 0 0 0.37934 -370.63 76.04)" font-size="100" stroke-width="2.06">i</text><text transform="matrix(0.38352 0 0 0.37314 -361 76.04)" font-size="100" stroke-width="1.85">n</text><text transform="matrix(0.37945 0 0 0.37768 -338.05 75.92)" font-size="100" stroke-width="1.85">j</text><rect x="-317.41" y="44.21" width="5.46" height="6.57" stroke="none"/><text transform="matrix(0.54014 0 0 0.55000 -289.33 61.55)" font-size="100" stroke-width="1.28">Ω</text><text transform="matrix(0.37644 0 0 0.38644 -247.07 70.39)" font-size="100" stroke-width="1.84">0</text><text transform="matrix(0.42161 0 0 0.49915 -218.99 58.2)" font-size="100" stroke-width="1.52">)</text></g>
<g transform="rotate(-90)"><text transform="matrix(0.54843 0 0 0.55142 -1301.94 42.65)" font-size="100" stroke-width="1.27" font-style="italic">D</text><rect x="-1249.06" y="23.09" width="2.9" height="36.54" stroke="none"/><rect x="-1243.26" y="23.09" width="2.9" height="36.54" stroke="none"/><text transform="matrix(0.61751 0 0 0.58355 -1209.2 47)" font-size="100" stroke-width="1.17">/</text><text transform="matrix(0.54843 0 0 0.55142 -1174.4 42.65)" font-size="100" stroke-width="1.27" font-style="italic">D</text><rect x="-1124.51" y="49.25" width="21.85" height="2.45" stroke="none"/><rect x="-1114.79" y="27.14" width="2.45" height="22.11" stroke="none"/></g>
<text transform="matrix(0.39166 0 0 0.41049 321.85 1306.85)" font-size="100" stroke-width="1.75" font-style="italic">M</text><text transform="matrix(0.26939 0 0 0.28429 356.44 1313.41)" font-size="100" stroke-width="2.53">A</text><text transform="matrix(0.49710 0 0 0.32595 385.93 1305.5)" font-size="100" stroke-width="1.70">=</text><text transform="matrix(0.40385 0 0 0.41422 426.24 1307.01)" font-size="100" stroke-width="1.71">0</text><text transform="matrix(0.35606 0 0 0.39499 451.49 1306.85)" font-size="100" stroke-width="1.86">.</text><text transform="matrix(0.41796 0 0 0.41422 463.78 1307.01)" font-size="100" stroke-width="1.68">6</text><text transform="matrix(0.38019 0 0 0.41280 489.96 1307.01)" font-size="100" stroke-width="1.77">5</text><text transform="matrix(0.50739 0 0 0.37627 512.21 1306.65)" font-size="100" stroke-width="1.58">,</text><text transform="matrix(0.39166 0 0 0.41049 533.95 1306.85)" font-size="100" stroke-width="1.75" font-style="italic">M</text><text transform="matrix(0.25033 0 0 0.27924 569.19 1313.53)" font-size="100" stroke-width="2.64">s</text><text transform="matrix(0.49710 0 0 0.32595 593.5 1305.5)" font-size="100" stroke-width="1.70">=</text><text transform="matrix(0.40385 0 0 0.41422 633.81 1307.01)" font-size="100" stroke-width="1.71">0</text><text transform="matrix(0.35606 0 0 0.39499 659.05 1306.85)" font-size="100" stroke-width="1.86">.</text><text transform="matrix(0.40465 0 0 0.41049 671.7 1306.85)" font-size="100" stroke-width="1.72">4</text><text transform="matrix(0.40811 0 0 0.41422 696.91 1307.01)" font-size="100" stroke-width="1.70">8</text>
<text transform="matrix(0.39166 0 0 0.41049 321.85 1366.58)" font-size="100" stroke-width="1.75" font-style="italic">M</text><text transform="matrix(0.26939 0 0 0.28429 356.44 1373.14)" font-size="100" stroke-width="2.53">A</text><text transform="matrix(0.49710 0 0 0.32595 385.93 1365.23)" font-size="100" stroke-width="1.70">=</text><text transform="matrix(0.40385 0 0 0.41422 426.24 1366.74)" font-size="100" stroke-width="1.71">0</text><text transform="matrix(0.35606 0 0 0.39499 451.49 1366.58)" font-size="100" stroke-width="1.86">.</text><text transform="matrix(0.38019 0 0 0.41280 464.67 1366.74)" font-size="100" stroke-width="1.77">5</text><text transform="matrix(0.38019 0 0 0.41280 489.96 1366.74)" font-size="100" stroke-width="1.77">5</text><text transform="matrix(0.50739 0 0 0.37627 512.21 1366.38)" font-size="100" stroke-width="1.58">,</text><text transform="matrix(0.39166 0 0 0.41049 533.95 1366.58)" font-size="100" stroke-width="1.75" font-style="italic">M</text><text transform="matrix(0.25033 0 0 0.27924 569.19 1373.26)" font-size="100" stroke-width="2.64">s</text><text transform="matrix(0.49710 0 0 0.32595 593.5 1365.23)" font-size="100" stroke-width="1.70">=</text><text transform="matrix(0.40465 0 0 0.41049 633.78 1366.58)" font-size="100" stroke-width="1.72">4</text><text transform="matrix(0.35606 0 0 0.39499 659.05 1366.58)" font-size="100" stroke-width="1.86">.</text><text transform="matrix(0.40465 0 0 0.41049 671.7 1366.58)" font-size="100" stroke-width="1.72">4</text><text transform="matrix(0.41796 0 0 0.41422 696.63 1366.74)" font-size="100" stroke-width="1.68">6</text>
<text transform="matrix(0.39166 0 0 0.41049 321.85 1426.31)" font-size="100" stroke-width="1.75" font-style="italic">M</text><text transform="matrix(0.26939 0 0 0.28429 356.44 1432.87)" font-size="100" stroke-width="2.53">A</text><text transform="matrix(0.49710 0 0 0.32595 385.93 1424.96)" font-size="100" stroke-width="1.70">=</text><text transform="matrix(0.38346 0 0 0.41049 426.64 1426.31)" font-size="100" stroke-width="1.76">1</text><text transform="matrix(0.35606 0 0 0.39499 451.49 1426.31)" font-size="100" stroke-width="1.86">.</text><text transform="matrix(0.39397 0 0 0.41049 461.24 1426.31)" font-size="100" stroke-width="1.74">7</text><text transform="matrix(0.38802 0 0 0.41196 486.25 1426.31)" font-size="100" stroke-width="1.75">2</text><text transform="matrix(0.50739 0 0 0.37627 509.09 1426.11)" font-size="100" stroke-width="1.58">,</text><text transform="matrix(0.39166 0 0 0.41049 530.82 1426.31)" font-size="100" stroke-width="1.75" font-style="italic">M</text><text transform="matrix(0.25033 0 0 0.27924 566.07 1432.99)" font-size="100" stroke-width="2.64">s</text><text transform="matrix(0.49710 0 0 0.32595 590.37 1424.96)" font-size="100" stroke-width="1.70">=</text><text transform="matrix(0.40385 0 0 0.41422 630.68 1426.47)" font-size="100" stroke-width="1.71">0</text><text transform="matrix(0.35606 0 0 0.39499 655.93 1426.31)" font-size="100" stroke-width="1.86">.</text><text transform="matrix(0.40465 0 0 0.41049 668.58 1426.31)" font-size="100" stroke-width="1.72">4</text><text transform="matrix(0.38019 0 0 0.41280 694.4 1426.47)" font-size="100" stroke-width="1.77">5</text>
<text transform="matrix(0.39166 0 0 0.41049 321.85 1486.04)" font-size="100" stroke-width="1.75" font-style="italic">M</text><text transform="matrix(0.26939 0 0 0.28429 356.44 1492.6)" font-size="100" stroke-width="2.53">A</text><text transform="matrix(0.49710 0 0 0.32595 385.93 1484.69)" font-size="100" stroke-width="1.70">=</text><text transform="matrix(0.38346 0 0 0.41049 426.64 1486.04)" font-size="100" stroke-width="1.76">1</text><text transform="matrix(0.35606 0 0 0.39499 451.49 1486.04)" font-size="100" stroke-width="1.86">.</text><text transform="matrix(0.41796 0 0 0.41422 463.78 1486.2)" font-size="100" stroke-width="1.68">6</text><text transform="matrix(0.41710 0 0 0.41422 488.96 1486.2)" font-size="100" stroke-width="1.68">9</text><text transform="matrix(0.50739 0 0 0.37627 512.21 1485.84)" font-size="100" stroke-width="1.58">,</text><text transform="matrix(0.39166 0 0 0.41049 533.95 1486.04)" font-size="100" stroke-width="1.75" font-style="italic">M</text><text transform="matrix(0.25033 0 0 0.27924 569.19 1492.72)" font-size="100" stroke-width="2.64">s</text><text transform="matrix(0.49710 0 0 0.32595 593.5 1484.69)" font-size="100" stroke-width="1.70">=</text><text transform="matrix(0.38714 0 0 0.41422 634.32 1486.2)" font-size="100" stroke-width="1.75">3</text><text transform="matrix(0.35606 0 0 0.39499 659.05 1486.04)" font-size="100" stroke-width="1.86">.</text><text transform="matrix(0.38346 0 0 0.41049 672.14 1486.04)" font-size="100" stroke-width="1.76">1</text><text transform="matrix(0.38346 0 0 0.41049 697.43 1486.04)" font-size="100" stroke-width="1.76">1</text>
</g>
</svg></body></html>
